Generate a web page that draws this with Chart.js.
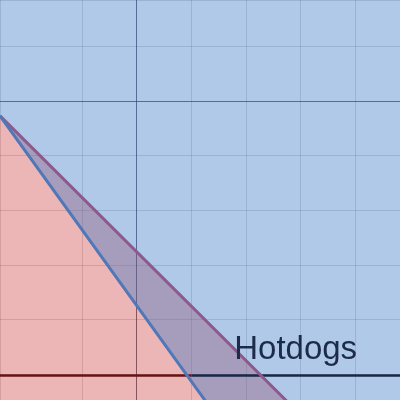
<!DOCTYPE html>
<html>
<head>
<meta charset="UTF-8" />
<script src="https://cdn.jsdelivr.net/npm/chart.js"></script>
<style>
  html, body { margin: 0; padding: 0; background: #fff; }
  #wrap { width: 400px; height: 400px; }
</style>
</head>
<body>
<div id="wrap"><canvas id="chart"></canvas></div>
<script>
  const xRange = [-2.5, 4.81];
  const yRange = [-5.47, 1.85];
  const blueLine = [{x: -2.5, y: -0.27}, {x: 1.3, y: -5.55}, {x: 4.9, y: -10.55}];
  const purpleLine = [{x: -2.5, y: -0.27}, {x: 2.8, y: -5.55}, {x: 4.9, y: -7.64}];
  const hotdogsRed = [{x: -2.5, y: -5.02}, {x: 1.0, y: -5.02}];
  const hotdogsNavy = [{x: 1.0, y: -5.02}, {x: 4.9, y: -5.02}];
  const label = {text: 'Hotdogs', x: 1.78, y: -4.72};

  const labelPlugin = {
    id: 'label',
    afterDatasetsDraw(chart) {
      const c = chart.ctx;
      c.save();
      c.font = '33px "Liberation Sans", Arial, sans-serif';
      c.fillStyle = '#1d2b4a';
      c.fillText(label.text, chart.scales.x.getPixelForValue(label.x), chart.scales.y.getPixelForValue(label.y));
      c.restore();
    }
  };

  const gridColor = ctx => ctx.tick && ctx.tick.value === 0 ? 'rgba(30,40,60,0.7)' : 'rgba(0,0,0,0.15)';

  new Chart(document.getElementById('chart'), {
    type: 'scatter',
    data: {
      datasets: [
        { data: blueLine, showLine: true, pointRadius: 0, borderColor: 'rgb(80,120,185)', borderWidth: 3,
          fill: 'end', backgroundColor: 'rgba(60,120,200,0.4)' },
        { data: purpleLine, showLine: true, pointRadius: 0, borderColor: 'rgb(140,90,140)', borderWidth: 3,
          fill: 'start', backgroundColor: 'rgba(200,45,45,0.35)' },
        { data: hotdogsRed, showLine: true, pointRadius: 0, borderColor: 'rgb(100,20,20)', borderWidth: 2.5 },
        { data: hotdogsNavy, showLine: true, pointRadius: 0, borderColor: 'rgb(25,40,70)', borderWidth: 2.5 }
      ]
    },
    options: {
      responsive: true,
      maintainAspectRatio: false,
      animation: false,
      layout: { padding: 0 },
      plugins: { legend: { display: false }, tooltip: { enabled: false }, filler: { drawTime: 'beforeDatasetsDraw' } },
      scales: {
        x: { type: 'linear', min: xRange[0], max: xRange[1],
          ticks: { display: false, stepSize: 1 }, border: { display: false },
          grid: { color: gridColor, drawTicks: false, lineWidth: 1 } },
        y: { type: 'linear', min: yRange[0], max: yRange[1],
          ticks: { display: false, stepSize: 1 }, border: { display: false },
          grid: { color: gridColor, drawTicks: false, lineWidth: 1 } }
      }
    },
    plugins: [labelPlugin]
  });
</script>
</body>
</html>
